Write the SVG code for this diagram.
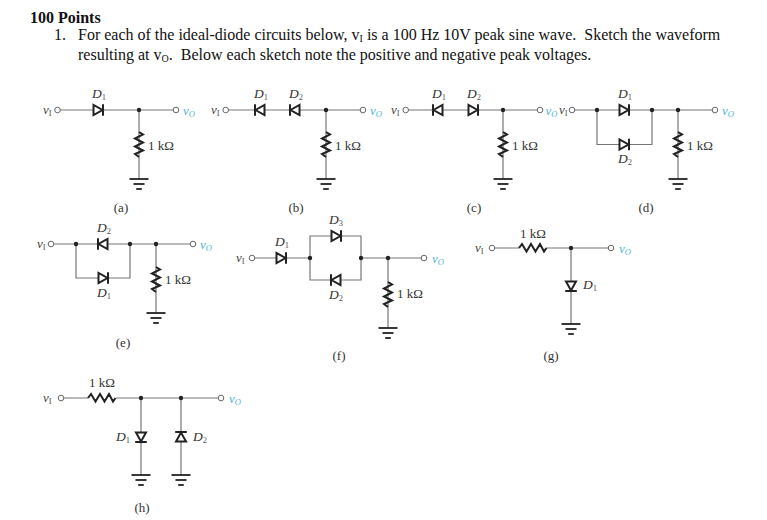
<svg xmlns="http://www.w3.org/2000/svg" width="767" height="520" viewBox="0 0 767 520">
<style>
text{font-family:"Liberation Serif","Times New Roman",serif;fill:#222}
.h{font-size:16px;white-space:pre;fill:#111}
.b{font-weight:bold}
.d{font-size:13.5px;font-style:italic;fill:#333}
.d tspan,.vi tspan{font-size:8.5px;font-style:normal;fill:#555}
.vi{font-size:13px;font-style:italic;fill:#444}
.vo{font-size:13px;font-style:italic;fill:#4fb6d2}
.vo tspan{font-size:8.5px;fill:#4fb6d2}
.r{font-size:13px;fill:#333}
.c{font-size:13px;fill:#333;text-anchor:middle}
.w{fill:none;stroke:#777;stroke-width:1.2}
.sym{fill:none;stroke:#222;stroke-width:2}
.term{fill:#fff;stroke:#666;stroke-width:1}
.dot{fill:#222}
</style>
<defs>
<g id="diode"><path d="M-5 0H5" stroke="#fff" stroke-width="2"/><path class="sym" d="M-4.500 -5V5L4.500 0Z M5 -5.800V5.800"/></g>
<path id="rv" class="sym" d="M0 0L4 2.500L-4 6.500L4 10.500L-4 14.500L4 18.500L-4 22L0 25"/>
<path id="rh" class="sym" d="M0 0L3 -4L7.500 3.500L12 -4L16.500 3.500L21 -4L25 3.500L27.500 0"/>
<g id="gnd"><path d="M-9.500 0H9.500" stroke="#222" stroke-width="1.800"/><path d="M-5.500 5H5.500" stroke="#222" stroke-width="1.800"/><path d="M-2.800 10H2.800" stroke="#222" stroke-width="1.800"/></g>
<circle id="t" class="term" r="2.800"/>
<circle id="j" class="dot" r="2.200"/>
</defs>

<g id="header">
<text class="h b" x="30" y="23">100 Points</text>
<text class="h" x="54" y="40">1.</text>
<text class="h" x="78" y="40">For each of the ideal-diode circuits below, v<tspan font-size="10" dy="2">I</tspan><tspan dy="-2"> is a 100 Hz 10V peak sine wave.  Sketch the waveform</tspan></text>
<text class="h" x="78" y="59.500">resulting at v<tspan font-size="10" dy="2">O</tspan><tspan dy="-2">.  Below each sketch note the positive and negative peak voltages.</tspan></text>
</g>

<g id="connectors">
<path class="w" d="M60 110H176M139 110V179"/>
<path class="w" d="M228 110H363M326 110V179"/>
<path class="w" d="M408 110H540M503 110V179"/>
<path class="w" d="M575 110H715M597 110V144.500H652V110M678 110V179"/>
<path class="w" d="M54 244H193M76 244V278H130V244M156 244V313"/>
<path class="w" d="M255 258H310M361 258H424M310 258V236H361V280H310V258M388 258V328"/>
<path class="w" d="M495 248H611M571 248V324"/>
<path class="w" d="M64 398H221M141 398V475M181 398V475"/>
</g>

<g id="circuit-a">
<g id="a-in"><use href="#t" x="57.500" y="110"/><text class="vi" x="43" y="114">v<tspan dy="2">I</tspan></text></g>
<g id="a-D1"><use href="#diode" x="98" y="110"/><text class="d" x="92" y="98">D<tspan dy="2">1</tspan></text></g>
<g id="a-J"><use href="#j" x="139" y="110"/></g>
<g id="a-out"><use href="#t" x="176" y="110"/><text class="vo" x="183" y="115">v<tspan dy="2">O</tspan></text></g>
<g id="a-R"><use href="#rv" x="139" y="132"/><text class="r" x="148" y="150">1 kΩ</text></g>
<g id="a-G"><use href="#gnd" x="139" y="179"/></g>
<text class="c" x="121" y="212">(a)</text>
</g>

<g id="circuit-b">
<g id="b-in"><use href="#t" x="225.700" y="110"/><text class="vi" x="211" y="114">v<tspan dy="2">I</tspan></text></g>
<g id="b-D1"><use href="#diode" transform="translate(260 110) rotate(180)"/><text class="d" x="254" y="98">D<tspan dy="2">1</tspan></text></g>
<g id="b-D2"><use href="#diode" transform="translate(295 110) rotate(180)"/><text class="d" x="289" y="98">D<tspan dy="2">2</tspan></text></g>
<g id="b-J"><use href="#j" x="326" y="110"/></g>
<g id="b-out"><use href="#t" x="363" y="110"/><text class="vo" x="370" y="115">v<tspan dy="2">O</tspan></text></g>
<g id="b-R"><use href="#rv" x="326" y="132"/><text class="r" x="335" y="150">1 kΩ</text></g>
<g id="b-G"><use href="#gnd" x="326" y="179"/></g>
<text class="c" x="296" y="212">(b)</text>
</g>

<g id="circuit-c">
<g id="c-in"><use href="#t" x="405.700" y="110"/><text class="vi" x="391" y="114">v<tspan dy="2">I</tspan></text></g>
<g id="c-D1"><use href="#diode" transform="translate(438 110) rotate(180)"/><text class="d" x="432" y="98">D<tspan dy="2">1</tspan></text></g>
<g id="c-D2"><use href="#diode" x="473" y="110"/><text class="d" x="467" y="98">D<tspan dy="2">2</tspan></text></g>
<g id="c-J"><use href="#j" x="503" y="110"/></g>
<g id="c-out"><use href="#t" x="540" y="110"/><text class="vo" x="545.500" y="115">v<tspan dy="2">O</tspan></text></g>
<g id="c-R"><use href="#rv" x="503" y="132"/><text class="r" x="512" y="150">1 kΩ</text></g>
<g id="c-G"><use href="#gnd" x="503" y="179"/></g>
<text class="c" x="474" y="212">(c)</text>
</g>

<g id="circuit-d">
<g id="d-in"><use href="#t" x="572" y="110"/><text class="vi" x="559" y="114">v<tspan dy="2">I</tspan></text></g>
<g id="d-J1"><use href="#j" x="597" y="110"/></g>
<g id="d-D1"><use href="#diode" x="624" y="110"/><text class="d" x="618" y="98">D<tspan dy="2">1</tspan></text></g>
<g id="d-D2"><use href="#diode" x="624" y="144.500"/><text class="d" x="618" y="163">D<tspan dy="2">2</tspan></text></g>
<g id="d-J2"><use href="#j" x="652" y="110"/></g>
<g id="d-J3"><use href="#j" x="678" y="110"/></g>
<g id="d-out"><use href="#t" x="715" y="110"/><text class="vo" x="722" y="115">v<tspan dy="2">O</tspan></text></g>
<g id="d-R"><use href="#rv" x="678" y="132"/><text class="r" x="687" y="150">1 kΩ</text></g>
<g id="d-G"><use href="#gnd" x="678" y="179"/></g>
<text class="c" x="646" y="212">(d)</text>
</g>

<g id="circuit-e">
<g id="e-in"><use href="#t" x="51" y="244"/><text class="vi" x="37" y="248">v<tspan dy="2">I</tspan></text></g>
<g id="e-J1"><use href="#j" x="76" y="244"/></g>
<g id="e-D2"><use href="#diode" transform="translate(103 244) rotate(180)"/><text class="d" x="97" y="232">D<tspan dy="2">2</tspan></text></g>
<g id="e-D1"><use href="#diode" x="103" y="278"/><text class="d" x="97" y="297">D<tspan dy="2">1</tspan></text></g>
<g id="e-J2"><use href="#j" x="130" y="244"/></g>
<g id="e-J3"><use href="#j" x="156" y="244"/></g>
<g id="e-out"><use href="#t" x="193" y="244"/><text class="vo" x="200" y="249">v<tspan dy="2">O</tspan></text></g>
<g id="e-R"><use href="#rv" x="156" y="267"/><text class="r" x="165" y="284">1 kΩ</text></g>
<g id="e-G"><use href="#gnd" x="156" y="313"/></g>
<text class="c" x="123" y="347">(e)</text>
</g>

<g id="circuit-f">
<g id="f-in"><use href="#t" x="252" y="258"/><text class="vi" x="236" y="262">v<tspan dy="2">I</tspan></text></g>
<g id="f-D1"><use href="#diode" x="281" y="258"/><text class="d" x="275" y="246">D<tspan dy="2">1</tspan></text></g>
<g id="f-J1"><use href="#j" x="310" y="258"/></g>
<g id="f-D3"><use href="#diode" x="336" y="236"/><text class="d" x="329" y="224">D<tspan dy="2">3</tspan></text></g>
<g id="f-D2"><use href="#diode" transform="translate(336 280) rotate(180)"/><text class="d" x="329" y="299">D<tspan dy="2">2</tspan></text></g>
<g id="f-J2"><use href="#j" x="361" y="258"/></g>
<g id="f-J3"><use href="#j" x="388" y="258"/></g>
<g id="f-out"><use href="#t" x="424" y="258"/><text class="vo" x="432" y="263">v<tspan dy="2">O</tspan></text></g>
<g id="f-R"><use href="#rv" x="388" y="282"/><text class="r" x="397" y="298">1 kΩ</text></g>
<g id="f-G"><use href="#gnd" x="388" y="328"/></g>
<text class="c" x="339" y="360">(f)</text>
</g>

<g id="circuit-g">
<g id="g-in"><use href="#t" x="492" y="248"/><text class="vi" x="475" y="252">v<tspan dy="2">I</tspan></text></g>
<g id="g-R"><rect x="519" y="244" width="27" height="8" fill="#fff"/><use href="#rh" x="519" y="248"/><text class="r" x="520" y="238">1 kΩ</text></g>
<g id="g-J"><use href="#j" x="571" y="248"/></g>
<g id="g-out"><use href="#t" x="611" y="248"/><text class="vo" x="619" y="253">v<tspan dy="2">O</tspan></text></g>
<g id="g-D1"><use href="#diode" transform="translate(571 286) rotate(90)"/><text class="d" x="583" y="289">D<tspan dy="2">1</tspan></text></g>
<g id="g-G"><use href="#gnd" x="571" y="324"/></g>
<text class="c" x="551" y="360">(g)</text>
</g>

<g id="circuit-h">
<g id="h-in"><use href="#t" x="61" y="398"/><text class="vi" x="43" y="402">v<tspan dy="2">I</tspan></text></g>
<g id="h-R"><rect x="88" y="394" width="28" height="8" fill="#fff"/><use href="#rh" x="88" y="398"/><text class="r" x="89" y="387">1 kΩ</text></g>
<g id="h-J1"><use href="#j" x="141" y="398"/></g>
<g id="h-J2"><use href="#j" x="181" y="398"/></g>
<g id="h-out"><use href="#t" x="221" y="398"/><text class="vo" x="229" y="403">v<tspan dy="2">O</tspan></text></g>
<g id="h-D1"><use href="#diode" transform="translate(141 437) rotate(90)"/><text class="d" x="116" y="441">D<tspan dy="2">1</tspan></text></g>
<g id="h-D2"><use href="#diode" transform="translate(181 437) rotate(-90)"/><text class="d" x="193" y="441">D<tspan dy="2">2</tspan></text></g>
<g id="h-G1"><use href="#gnd" x="141" y="475"/></g>
<g id="h-G2"><use href="#gnd" x="181" y="475"/></g>
<text class="c" x="142" y="512">(h)</text>
</g>
</svg>
